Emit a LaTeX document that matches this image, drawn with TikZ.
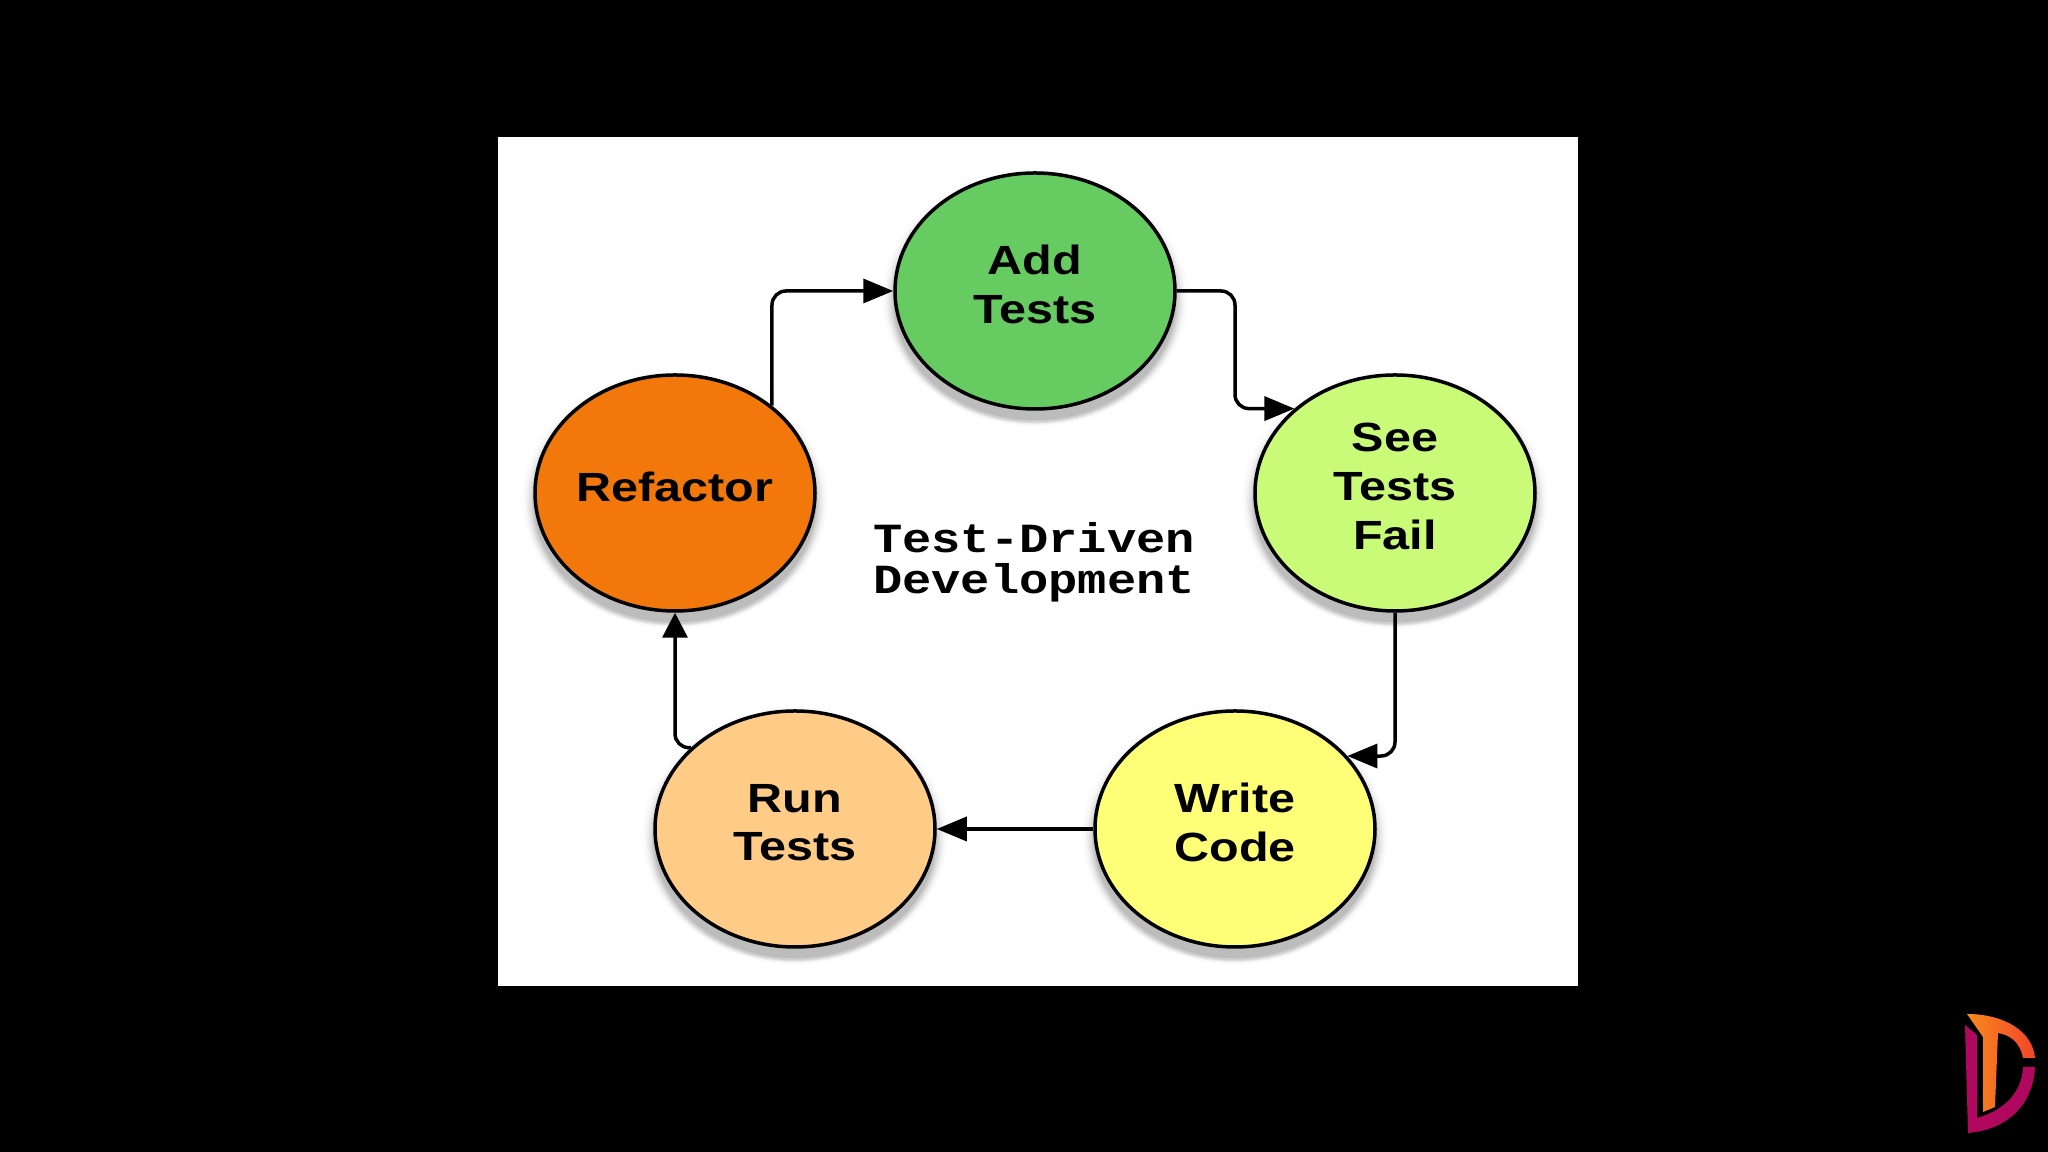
\documentclass[tikz,border=0pt]{standalone}
\usepackage{fontspec}
\setmainfont[FakeStretch=1.19]{Liberation Sans}
\newfontfamily\titlefont[FakeStretch=1.175]{Liberation Mono}
\usetikzlibrary{arrows.meta,shapes.geometric,shadows}
\definecolor{addgreen}{HTML}{66CC62}
\definecolor{failgreen}{HTML}{C9FA78}
\definecolor{refactorsub}{HTML}{F2780C}
\definecolor{writeyellow}{HTML}{FFFF77}
\definecolor{runorange}{HTML}{FFCC88}
\definecolor{logoorange}{HTML}{F78A1D}
\definecolor{logored}{HTML}{F2452A}
\definecolor{logopink}{HTML}{B0085F}
\tikzset{
  softshadow/.style={general shadow={shadow xshift=0cm,shadow yshift=-0.06cm,shadow scale=1.09,fill=black,opacity=0.015},
    general shadow={shadow xshift=0cm,shadow yshift=-0.07cm,shadow scale=1.07,fill=black,opacity=0.025},
    general shadow={shadow xshift=0cm,shadow yshift=-0.08cm,shadow scale=1.055,fill=black,opacity=0.04},
    general shadow={shadow xshift=0cm,shadow yshift=-0.09cm,shadow scale=1.04,fill=black,opacity=0.05},
    general shadow={shadow xshift=0cm,shadow yshift=-0.10cm,shadow scale=1.025,fill=black,opacity=0.07},
    general shadow={shadow xshift=0cm,shadow yshift=-0.10cm,shadow scale=1.01,fill=black,opacity=0.09}},
  stage/.style={ellipse,draw=black,line width=0.035cm,minimum width=2.8cm,minimum height=2.36cm,
    inner sep=0pt,align=center,text depth=0.13cm,softshadow,font=\fontsize{11.6pt}{13.9pt}\selectfont\bfseries},
  flowh/.style={draw=black,line width=0.035cm,rounded corners=0.14cm,-{Triangle[length=0.3cm,width=0.24cm]}},
  flowv/.style={draw=black,line width=0.035cm,rounded corners=0.14cm,-{Triangle[length=0.25cm,width=0.25cm]}}
}
\begin{document}
\begin{tikzpicture}
  \useasboundingbox (0,0) rectangle (20.48,11.52);
  \fill[black] (0,0) rectangle (20.48,11.52);
  \fill[white] (4.98,1.66) rectangle (15.78,10.15);

  \node[stage,fill=addgreen] (add) at (10.35,8.61) {Add\\Tests};
  \node[stage,fill=failgreen] (fail) at (13.95,6.59) {See\\Tests\\Fail};
  \node[stage,fill=writeyellow] (write) at (12.35,3.23) {Write\\Code};
  \node[stage,fill=runorange] (run) at (7.95,3.23) {Run\\Tests};
  \node[stage,fill=refactorsub] (refactor) at (6.75,6.59) {Refactor};

  \node[align=center,font=\titlefont\fontsize{11.8pt}{11.6pt}\selectfont\bfseries] (title) at (10.34,5.90) {Test-Driven\\Development};

  \coordinate (bendfail) at (12.35,8.0);
  \draw[flowh] (add.east) -| (bendfail) |- (fail.140);
  \draw[flowh] (fail.south) |- (write.33);
  \draw[flowh] (write.west) -- (run.east);
  \draw[flowv] (run.142) -| (refactor.south);
  \draw[flowh] (refactor.42) |- (add.west);

  % logo
  \fill[logopink] (19.65,1.27) -- (19.77,1.17) -- (19.77,0.34)
    .. controls (20.05,0.42) and (20.22,0.6) .. (20.23,0.85) -- (20.35,0.85)
    .. controls (20.33,0.45) and (20.05,0.22) .. (19.68,0.19) -- cycle;
  \shade[left color=logoorange,right color=logored] (19.67,1.38)
    .. controls (20.05,1.38) and (20.33,1.2) .. (20.35,0.94) -- (20.23,0.94)
    .. controls (20.2,1.1) and (20.1,1.17) .. (19.98,1.19) -- (19.95,0.45) -- (19.83,0.40) -- (19.83,1.15) -- cycle;
\end{tikzpicture}
\end{document}
